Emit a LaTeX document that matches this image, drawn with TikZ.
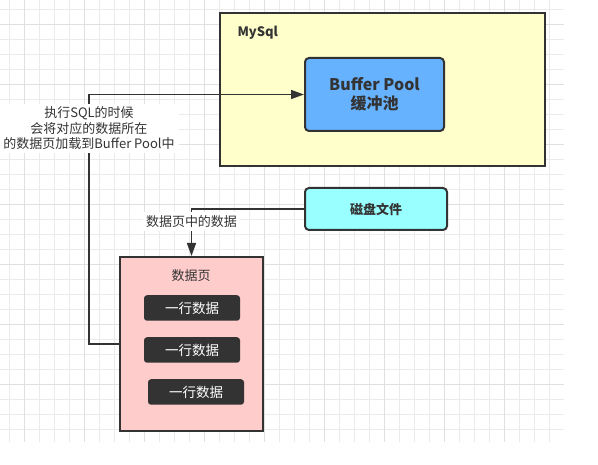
\documentclass[tikz,border=0pt]{standalone}
\usepackage{fontspec}
\setmainfont{Noto Sans CJK SC}
\usepackage{tikz}
\usetikzlibrary{shapes,arrows.meta,positioning,calc}
\usepackage{xcolor}
\definecolor{linegray}{HTML}{333333}
\definecolor{mysqlbg}{HTML}{FFFFCC}
\definecolor{poolbg}{HTML}{66B2FF}
\definecolor{diskbg}{HTML}{99FFFF}
\definecolor{pagebg}{HTML}{FFCCCC}

\tikzset{
  box/.style={draw=linegray, line width=2pt, inner sep=0pt},
  rowbox/.style={fill=linegray, rounded corners=3pt, minimum width=96pt, minimum height=25.5pt,
    text=white, font=\fontsize{13.5}{15}\selectfont},
  conn/.style={draw=linegray, line width=1.5pt, -{Triangle[length=13pt,width=9pt]}},
  tag/.style={fill=white, text=linegray, align=center}
}

\begin{document}
\begin{tikzpicture}[x=1pt,y=-1pt]
  \useasboundingbox[fill=white] (0,0) rectangle (598,465);
  % grid
  \foreach \x in {9.3,24.3,...,550} \draw[black!8, line width=0.8pt] (\x,0) -- (\x,442);
  \foreach \y in {9.3,24.3,...,430} \draw[black!8, line width=0.8pt] (0,\y) -- (564,\y);
  \foreach \x in {24.3,84.3,...,550} \draw[black!12, line width=0.8pt] (\x,0) -- (\x,442);
  \foreach \y in {24.3,84.3,...,430} \draw[black!12, line width=0.8pt] (0,\y) -- (564,\y);

  % MySql
  \node[box, fill=mysqlbg, minimum width=325pt, minimum height=153pt] (mysql) at (382.5,89.5) {};
  \node[anchor=west, text=linegray, font=\fontsize{13}{15}\selectfont\bfseries] (mysqlname) at (234,33) {MySql};
  \node[box, fill=poolbg, rounded corners=4pt, minimum width=139pt, minimum height=73pt,
    align=center, text=linegray, font=\fontsize{16}{19}\selectfont\bfseries] (pool) at (374.5,94.5) {Buffer Pool\\缓冲池};

  % disk
  \node[box, fill=diskbg, rounded corners=4pt, minimum width=142pt, minimum height=42pt,
    text=linegray, font=\fontsize{13}{15}\selectfont\bfseries] (disk) at (376,209) {磁盘文件};

  % data page
  \node[box, fill=pagebg, minimum width=143pt, minimum height=174pt] (page) at (191.5,344) {};
  \node[text=linegray, font=\fontsize{13}{15}\selectfont] (pagename) at (191,276) {数据页};
  \node[rowbox] (row1) at (192,308) {一行数据};
  \node[rowbox] (row2) at (192,350) {一行数据};
  \node[rowbox] (row3) at (196,392) {一行数据};

  % connectors
  \draw[conn] (disk.west) -| node[tag, pos=0.63, font=\fontsize{13}{15}\selectfont] (readlabel) {数据页中的数据} (page.north);
  \draw[conn] (page.west) -- ++(-30,0) |- node[tag, pos=0.432, inner xsep=4pt, inner ysep=3pt,
    font=\fontsize{13}{15.5}\selectfont] (loadlabel) {执行SQL的时候\\会将对应的数据所在\\的数据页加载到Buffer Pool中} (pool.west);
\end{tikzpicture}
\end{document}
